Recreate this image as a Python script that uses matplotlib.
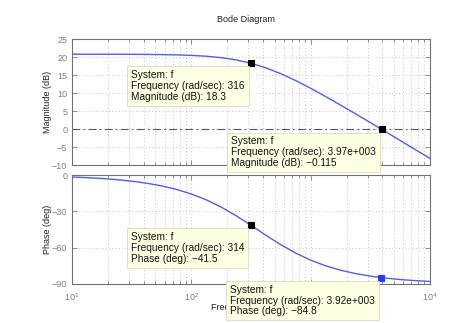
import matplotlib
matplotlib.use("Agg")
import matplotlib.pyplot as plt
from matplotlib.ticker import LogLocator, NullFormatter, LogFormatterSciNotation

plt.rcParams['font.family'] = ['Liberation Sans', 'DejaVu Sans']
plt.rcParams['axes.unicode_minus'] = True

# Frequency response samples of system f
freq = [10, 13, 18, 24, 32, 42, 56, 75, 100, 133, 178, 237, 316, 422, 562,
        750, 1000, 1330, 1780, 2370, 3160, 4220, 5620, 7500, 10000]
mag_db = [20.80, 20.79, 20.79, 20.78, 20.77, 20.74, 20.69, 20.61, 20.47, 20.24,
          19.84, 19.22, 18.29, 17.00, 15.39, 13.47, 11.33, 9.07, 6.67, 4.26,
          1.81, -0.68, -3.16, -5.66, -8.15]
phase_deg = [-1.60, -2.09, -2.89, -3.85, -5.12, -6.71, -8.92, -11.86, -15.65,
             -20.43, -26.50, -33.58, -41.52, -49.77, -57.58, -64.55, -70.35,
             -74.97, -78.66, -81.43, -83.55, -85.16, -86.37, -87.27, -87.96]

# Data tips
mag_tip_freq = [316, 3970]
mag_tip_val = [18.3, -0.115]
mag_tip_freq_text = ['316', '3.97e+003']
mag_tip_val_text = ['18.3', '\u22120.115']

phase_tip_freq = [314, 3920]
phase_tip_val = [-41.5, -84.8]
phase_tip_freq_text = ['314', '3.92e+003']
phase_tip_val_text = ['\u221241.5', '\u221284.8']

mag_ticks = [-10, -5, 0, 5, 10, 15, 20, 25]
phase_ticks = [-90, -60, -30, 0]

LINE = '#5060e2'
TICK_GRAY = '#7d7d7d'

fig = plt.figure(figsize=(4.74, 3.23), dpi=100)
fig.patch.set_facecolor('white')
ax_m = fig.add_axes([0.152, 0.489, 0.755, 0.390])
ax_p = fig.add_axes([0.152, 0.121, 0.755, 0.337])


def style(ax, ticks, show_xlabels):
    ax.set_xscale('log')
    ax.set_xlim(10, 1e4)
    ax.set_ylim(ticks[0], ticks[-1])
    ax.set_yticks(ticks)
    ax.xaxis.set_major_locator(LogLocator(base=10, numticks=10))
    ax.xaxis.set_minor_locator(LogLocator(base=10, subs=range(2, 10), numticks=20))
    ax.xaxis.set_minor_formatter(NullFormatter())
    if show_xlabels:
        ax.xaxis.set_major_formatter(LogFormatterSciNotation())
    else:
        ax.xaxis.set_major_formatter(NullFormatter())
    ax.grid(True, which='major', axis='both', ls=(0, (1, 3)), color='#b0b0b0', lw=0.6)
    ax.grid(True, which='minor', axis='x', ls=(0, (1, 3)), color='#b0b0b0', lw=0.6)
    ax.tick_params(which='both', direction='in', top=True, right=True,
                   colors=TICK_GRAY, labelsize=6.5, width=0.6)
    ax.tick_params(which='major', length=3.5)
    ax.tick_params(which='minor', length=2)
    ax.tick_params(axis='x', pad=5)
    for sp in ax.spines.values():
        sp.set_color('#707070')
        sp.set_linewidth(0.8)
    ax.set_axisbelow(True)


style(ax_m, mag_ticks, False)
style(ax_p, phase_ticks, True)

ax_m.axhline(0, color='#585858', ls=(0, (7, 3, 1.5, 3)), lw=0.8, zorder=1.5)
ax_m.plot(freq, mag_db, color=LINE, lw=1.0, zorder=3)
ax_p.plot(freq, phase_deg, color=LINE, lw=1.0, zorder=3)

ax_m.set_ylabel('Magnitude (dB)', fontsize=6.5, color='#202020')
ax_p.set_ylabel('Phase (deg)', fontsize=6.5, color='#202020')
ax_m.yaxis.set_label_coords(-0.056, 0.5)
ax_p.yaxis.set_label_coords(-0.056, 0.5)
ax_p.set_xlabel('Frequency (rad/sec)', fontsize=6.5, color='#202020', labelpad=0)

fig.text(246 / 474, 1 - 20 / 323, 'Bode Diagram', ha='center', va='center',
         fontsize=6.5, color='#202020')


def tip(ax, x, y, text, face, edge):
    ax.plot([x], [y], marker='s', ms=5, mfc=face, mec=edge, mew=0.8,
            zorder=11, clip_on=False)
    ax.annotate(text, xy=(x, y), xytext=(-4.5, -5), textcoords='offset points',
                ha='right', va='top', fontsize=7.3, linespacing=1.12,
                multialignment='left', color='#111111',
                bbox=dict(boxstyle='square,pad=0.38', fc='#ffffe4', ec='#d9d9c4', lw=0.6),
                zorder=12, annotation_clip=False)


for f, v, ft, vt in zip(mag_tip_freq, mag_tip_val, mag_tip_freq_text, mag_tip_val_text):
    tip(ax_m, f, v,
        f'System: f\nFrequency (rad/sec): {ft}\nMagnitude (dB): {vt}', 'black', 'black')

tip_faces = ['black', '#2a3cff']
for f, v, ft, vt, c in zip(phase_tip_freq, phase_tip_val, phase_tip_freq_text,
                           phase_tip_val_text, tip_faces):
    tip(ax_p, f, v,
        f'System: f\nFrequency (rad/sec): {ft}\nPhase (deg): {vt}', c, c)

fig.savefig('out.png', dpi=100, facecolor='white')
